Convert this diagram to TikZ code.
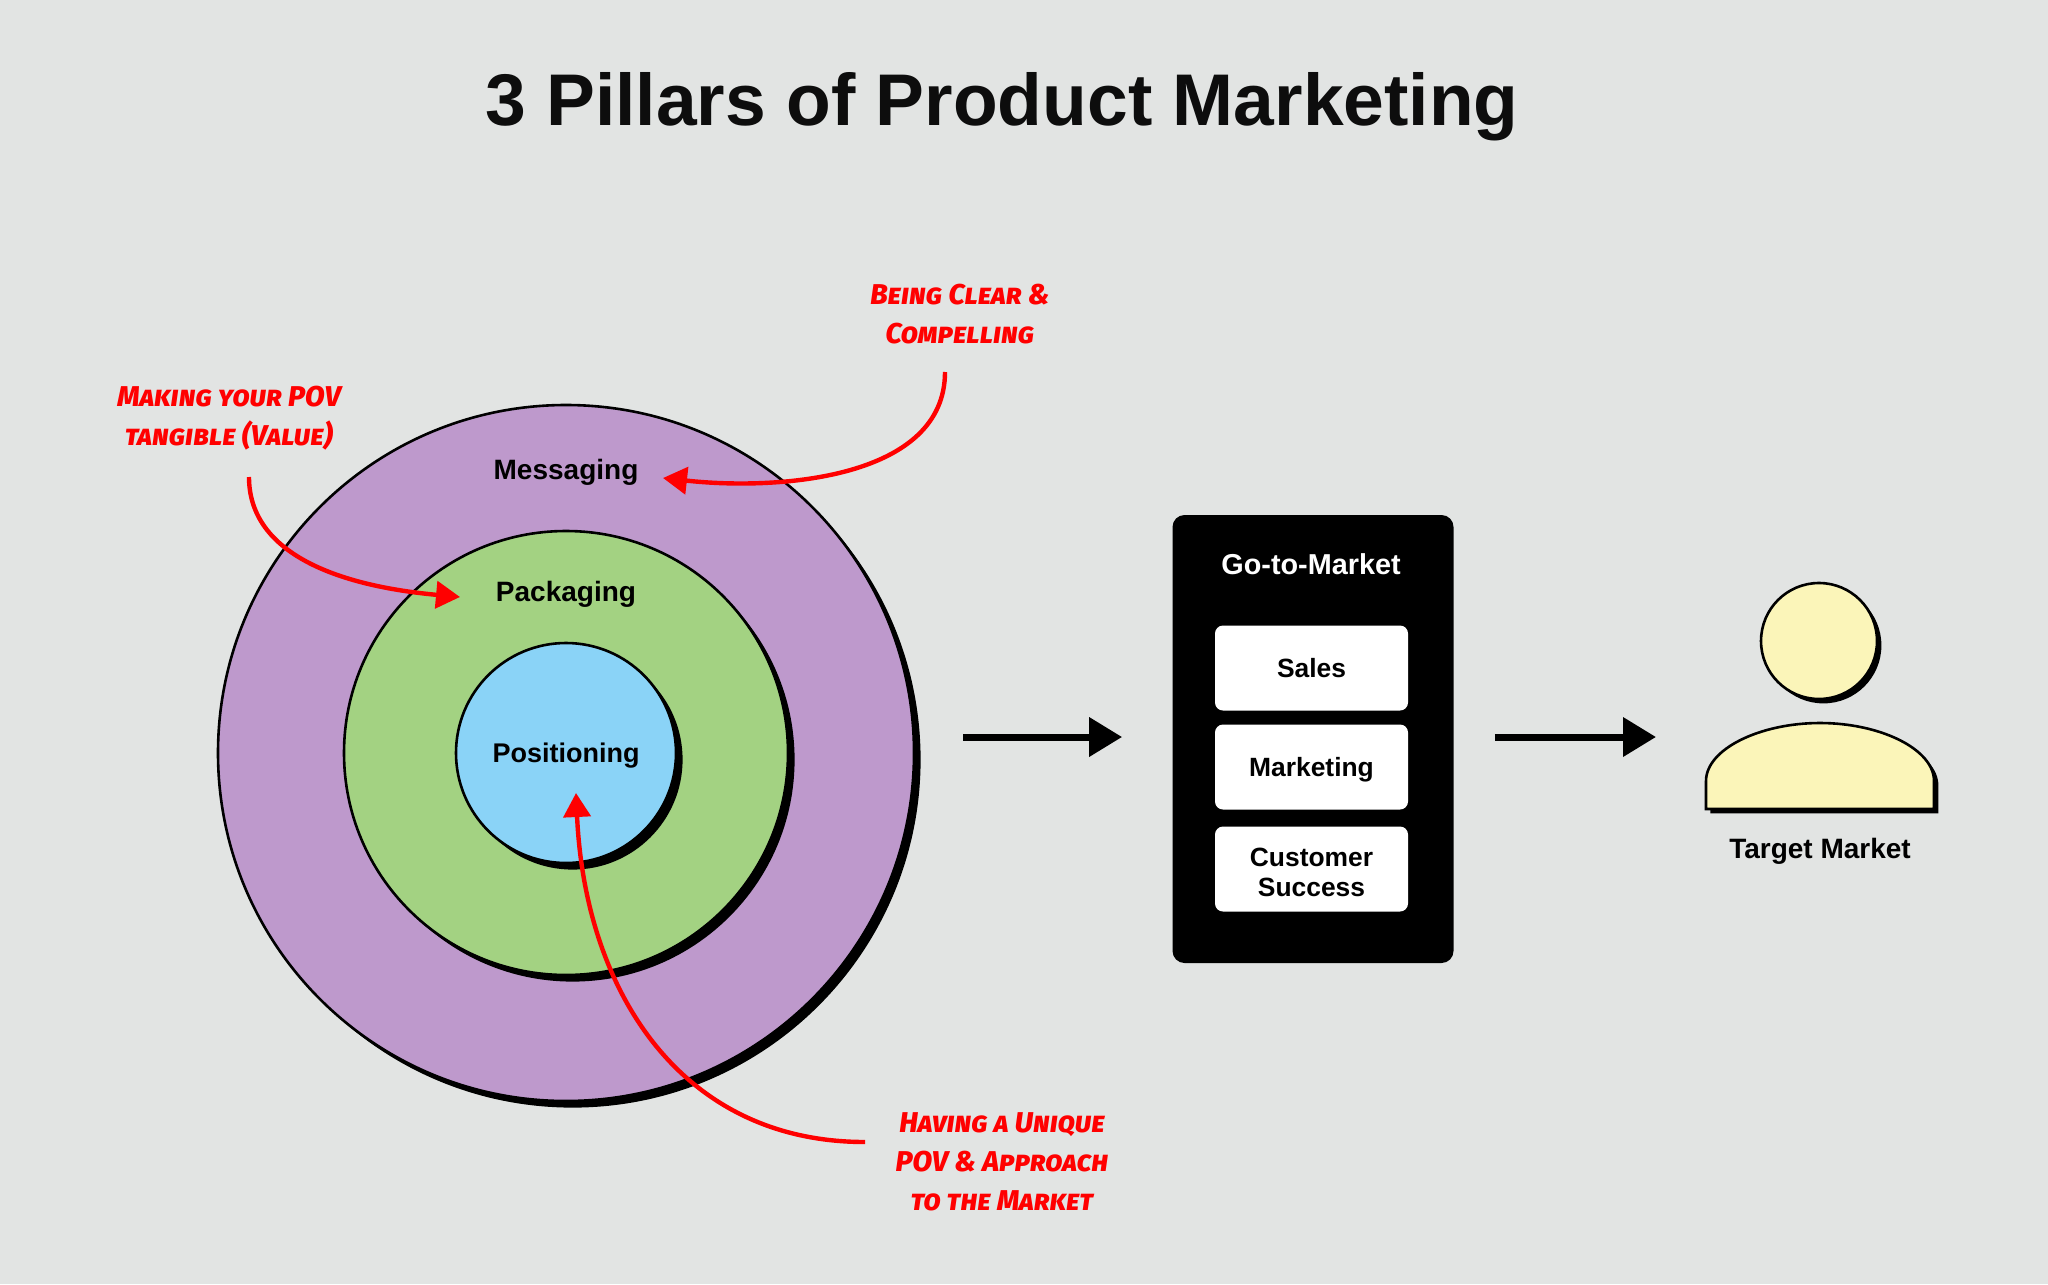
\documentclass[tikz,border=0pt]{standalone}
\usepackage{fontspec}
\setmainfont{Liberation Sans}
\newfontfamily\notefont[Letters=SmallCaps,BoldItalicFont={Fira Sans ExtraBold Italic}]{Fira Sans}
\usepackage{xcolor}
\usetikzlibrary{shadows,arrows.meta}

\definecolor{pagegrey}{HTML}{E2E4E3}
\definecolor{ringpurple}{HTML}{BE99CC}
\definecolor{ringgreen}{HTML}{A3D282}
\definecolor{ringblue}{HTML}{8AD3F7}
\definecolor{skinyellow}{HTML}{FBF5B9}

\tikzset{
    offset/.style={drop shadow={shadow xshift=#1,shadow yshift=-#1,opacity=1,fill=black}},
    ring/.style={circle,draw=black,line width=1.3pt,inner sep=0pt,offset=3.3pt},
    ringlabel/.style={font=\bfseries\fontsize{14}{17}\selectfont,inner sep=0pt},
    note/.style={text=red,align=center,inner sep=0pt,font=\notefont\bfseries\itshape\fontsize{14.3}{19.4}\selectfont},
    noteline/.style={red,line width=2.2pt,-{Triangle[length=12pt,width=13.5pt]}},
    flow/.style={black,line width=3.5pt,-{Triangle[length=16.5pt,width=19pt]}},
    teambox/.style={fill=white,rounded corners=4pt,minimum width=96.5pt,minimum height=42.5pt,inner sep=0pt,align=center,
        text height=9.6pt,text depth=0pt,font=\bfseries\fontsize{13.2}{15}\selectfont}
}

\begin{document}
\begin{tikzpicture}[x=0.5pt,y=-0.5pt]
    \def\ringX{566}
    \def\ringY{753}

    \fill[pagegrey] (0,0) rectangle (2048,1284);
    \useasboundingbox (0,0) rectangle (2048,1284);

    \node[font=\bfseries\fontsize{36.6}{40}\selectfont,text=black!95,inner sep=0pt] (title) at (1002,107) {3 Pillars of Product Marketing};

    % rings
    \node[ring,fill=ringpurple,minimum size=348pt] (messagingring) at (\ringX,\ringY) {};
    \node[ring,fill=ringgreen,minimum size=222pt] (packagingring) at (\ringX,\ringY) {};
    \node[ring,fill=ringblue,minimum size=110pt] (positioningring) at (\ringX,\ringY) {};
    \node[ringlabel] (messaging) at (566,472) {Messaging};
    \node[ringlabel] (packaging) at (566,594) {Packaging};
    \node[ringlabel,font=\bfseries\fontsize{13.5}{17}\selectfont] (positioning) at (566,756) {Positioning};

    % go to market
    \node[fill=black,rounded corners=6pt,minimum width=140.5pt,minimum height=224pt,inner sep=0pt] (gotomarket) at (1313,739) {};
    \node[ringlabel,font=\bfseries\fontsize{14.4}{17}\selectfont,text=white] (gtmtitle) at (1311,564) {Go-to-Market};
    \node[teambox] (sales) at (1311.5,668) {Sales};
    \node[teambox] (marketing) at (1311.5,767) {Marketing};
    \node[teambox,text height=27.2pt] (success) at (1311.5,869) {Customer\\Success};

    % target market
    \node[circle,draw=black,line width=1.3pt,fill=skinyellow,inner sep=0pt,minimum size=58pt,offset=2.2pt] (head) at (1819,641) {};
    \draw[line width=1.3pt,fill=skinyellow,offset=2.2pt] (1706,809) -- (1706,781)
        .. controls (1706,749) and (1760,723) .. (1820,723)
        .. controls (1880,723) and (1934,749) .. (1934,781) -- (1934,809) -- cycle;
    \node[ringlabel] (target) at (1820,851) {Target Market};

    \coordinate (targetgap) at (1656,739);
    \draw[flow] ([xshift=24pt,yshift=1pt]messagingring.east |- gotomarket.center) -- ([xshift=-25pt,yshift=1pt]gotomarket.west);
    \draw[flow] ([xshift=20.5pt,yshift=1pt]gotomarket.east) -- ([yshift=1pt]targetgap);

    % hand written notes
    \node[note] (clearnote) at (960,314) {Being Clear \&\\Compelling};
    \node[note] (tangiblenote) at (229,418) {Making your POV\\tangible (Value)};
    \node[note] (uniquenote) at (1002,1162) {Having a Unique\\POV \& Approach\\to the Market};

    \coordinate (clearstart) at (945,372);
    \coordinate (tangiblestart) at (249,477);
    \coordinate (uniquestart) at (865,1142);
    \coordinate (cleartip) at (663,478);
    \coordinate (tangibletip) at (460,597);
    \coordinate (uniquetip) at (576,793);

    \draw[noteline] (clearstart) .. controls (945,478) and (780,491) .. (cleartip);
    \draw[noteline] (tangiblestart) .. controls (249,550) and (330,585) .. (tangibletip);
    \draw[noteline] (uniquestart) .. controls (680,1142) and (585,990) .. (uniquetip);
\end{tikzpicture}
\end{document}
